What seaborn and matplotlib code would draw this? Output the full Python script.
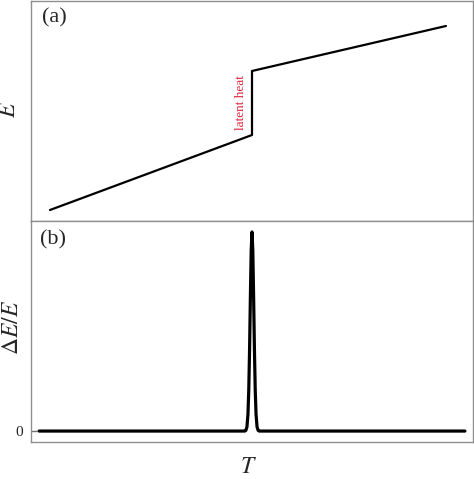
import matplotlib
matplotlib.use("Agg")
import matplotlib.pyplot as plt
import seaborn as sns
import pandas as pd

# ---- data ----
# panel (a): energy vs temperature with a latent-heat jump at Tc = 1
T_energy = [0.0, 1.0, 1.0, 1.96]
E_energy = [0.0, 0.75, 1.39, 1.84]

# panel (b): relative energy fluctuation, sharp peak at Tc
T_fluct = [-0.054, 0.965, 0.97, 0.975, 0.98, 0.984, 0.988, 0.992, 0.996, 1.0,
           1.004, 1.008, 1.012, 1.016, 1.02, 1.025, 1.03, 1.035, 2.054]
dE_fluct = [0.0, 0.0, 0.004, 0.021, 0.085, 0.206, 0.411, 0.674, 0.906, 1.0,
            0.906, 0.674, 0.411, 0.206, 0.085, 0.021, 0.004, 0.0, 0.0]

annotation_text = "latent heat"
panel_labels = ["(a)", "(b)"]
y_ticks_b = [0]
y_tick_labels_b = ["0"]

sns.set_style("white")
plt.rcParams["font.family"] = ["Liberation Serif", "DejaVu Serif"]
plt.rcParams["mathtext.fontset"] = "stix"

df_a = pd.DataFrame({"T": T_energy, "E": E_energy})
df_b = pd.DataFrame({"T": T_fluct, "dE": dE_fluct})

fig = plt.figure(figsize=(4.74, 4.79), dpi=100)
W, H = 474, 479
left = 31 / W
width = 442 / W
ax_a = fig.add_axes([left, (H - 221) / H, width, 220 / H])
ax_b = fig.add_axes([left, (H - 442) / H, width, 221 / H])

spine_col = "#8f8f8f"

sns.lineplot(data=df_a, x="T", y="E", ax=ax_a, color="black", lw=1.6,
             estimator=None, sort=False)
sns.lineplot(data=df_b, x="T", y="dE", ax=ax_b, color="black", lw=2.3,
             estimator=None, sort=False)

xlim = (-0.094, 2.094)
ax_a.set_xlim(*xlim)
ax_b.set_xlim(*xlim)
ax_a.set_ylim(-0.11, 2.09)
ax_b.set_ylim(-0.055, 1.055)

for ax in (ax_a, ax_b):
    for s in ax.spines.values():
        s.set_color(spine_col)
        s.set_linewidth(1.0)
    ax.set_xticks([])
    ax.set_xlabel("")

ax_a.set_yticks([])
ax_b.set_yticks(y_ticks_b)
ax_b.set_yticklabels(y_tick_labels_b, fontsize=11)
ax_b.tick_params(axis="y", which="major", direction="in", length=4,
                 color="#707070", width=1.0, pad=6, left=True)

ax_a.set_ylabel(r"$E$", fontsize=17)
ax_a.yaxis.set_label_coords(-0.026, 0.505)
ax_b.set_ylabel(r"$\Delta E/E$", fontsize=17)
ax_b.yaxis.set_label_coords(-0.019, 0.52)
ax_b.set_xlabel(r"$T$", fontsize=17)
ax_b.xaxis.set_label_coords(0.491, -0.07)

ax_a.text(0.024, 0.968, panel_labels[0], transform=ax_a.transAxes,
          ha="left", va="top", fontsize=16)
ax_b.text(0.02, 0.958, panel_labels[1], transform=ax_b.transAxes,
          ha="left", va="top", fontsize=16)

ax_a.text(0.946, 1.07, annotation_text, rotation=90, color="#e0203c",
          ha="center", va="center", fontsize=9.5)

fig.savefig("out.png", dpi=100)
